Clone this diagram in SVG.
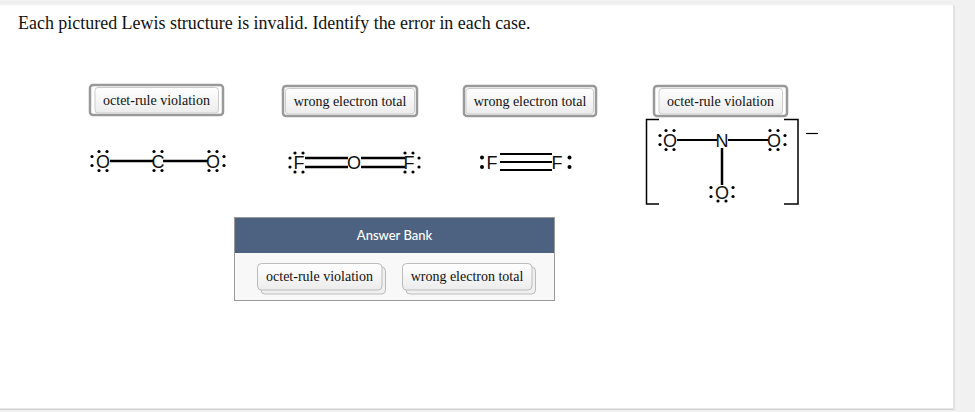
<svg xmlns="http://www.w3.org/2000/svg" width="975" height="412" viewBox="0 0 975 412">
<defs>
<linearGradient id="btn" x1="0" y1="0" x2="0" y2="1"><stop offset="0" stop-color="#ffffff"/><stop offset="1" stop-color="#ececec"/></linearGradient>
<g id="d2h"><circle cx="-4" cy="0" r="1.6"/><circle cx="4" cy="0" r="1.6"/></g>
<g id="d2v"><circle cx="0" cy="-4.500" r="1.6"/><circle cx="0" cy="4.500" r="1.6"/></g>
<g id="tb"><use href="#d2h" y="-9.500"/><use href="#d2h" y="9.500"/></g>
</defs>
<style>
.q{font-family:"Liberation Serif","Times New Roman",serif;fill:#111}
.l{font-size:14px;text-anchor:middle}
.a{font-family:"Liberation Sans",Arial,sans-serif;font-size:18px;text-anchor:middle;fill:#111}
.frame{fill:#fff;stroke:#999;stroke-width:2.5}
.in{fill:url(#btn);stroke:#ccc;stroke-width:1}
.shadow{fill:#f0f0f0;stroke:#bbb;stroke-width:1}
.b{stroke:#000;stroke-linecap:butt;fill:none}
</style>
<rect width="975" height="412" fill="#f1f1f1"/>
<rect x="0" y="408" width="954" height="2" fill="#cfcfcf"/>
<rect x="953" y="5" width="2" height="405" fill="#e2e2e2"/>
<rect x="0" y="5" width="953" height="403.500" fill="#fff"/>
<text class="q" x="18" y="29" font-size="17.950">Each pictured Lewis structure is invalid. Identify the error in each case.</text>

<g id="slot1"><rect class="frame" x="90" y="85" width="133" height="30" rx="3"/><rect class="in" x="95" y="87.500" width="123.500" height="25.500" rx="3"/><text class="q l" x="156.500" y="105">octet-rule violation</text></g>
<g id="slot2"><rect class="frame" x="283" y="86" width="134" height="30" rx="3"/><rect class="in" x="285.500" y="88.500" width="129" height="25.500" rx="3"/><text class="q l" x="350" y="106">wrong electron total</text></g>
<g id="slot3"><rect class="frame" x="464" y="86" width="132" height="30" rx="3"/><rect class="in" x="466" y="88.500" width="127.500" height="25.500" rx="3"/><text class="q l" x="530" y="106">wrong electron total</text></g>
<g id="slot4"><rect class="frame" x="654" y="86" width="133" height="30" rx="3"/><rect class="in" x="659" y="88.500" width="123.500" height="25.500" rx="3"/><text class="q l" x="720.500" y="106">octet-rule violation</text></g>

<g id="connectors">
<path class="b" stroke-width="2.500" d="M110 161H153M163 161H208"/>
<path class="b" stroke-width="2.500" d="M305 158H348M305 167H348M361 158H405M361 167H405"/>
<path class="b" stroke-width="1.800" d="M500 154H552M500 162H552M500 170H552"/>
<path class="b" stroke-width="2" d="M677 140H717M728 140H768"/>
<path class="b" stroke-width="2.500" d="M722 148V185"/>
</g>

<g id="co2">
<text class="a" x="103" y="167.500">O</text><use href="#tb" x="103" y="161"/><use href="#d2v" x="92" y="161"/>
<text class="a" x="158" y="167.500">C</text><use href="#tb" x="158" y="161"/>
<text class="a" x="213" y="167.500">O</text><use href="#tb" x="213" y="161"/><use href="#d2v" x="224" y="161"/>
</g>
<g id="f2o">
<text class="a" x="299" y="169">F</text><use href="#tb" x="299" y="162.500"/><use href="#d2v" x="290" y="162.500"/>
<text class="a" x="354" y="169">O</text>
<text class="a" x="409" y="169">F</text><use href="#tb" x="409" y="162.500"/><use href="#d2v" x="419" y="162.500"/>
</g>
<g id="f2">
<text class="a" x="492" y="168.500">F</text><circle cx="482" cy="157.500" r="2"/><circle cx="482" cy="167" r="2"/>
<text class="a" x="557" y="168.500">F</text><circle cx="569.500" cy="157.500" r="2"/><circle cx="569.500" cy="167" r="2"/>
</g>
<g id="no3">
<path class="b" stroke-width="1.500" d="M659 119.500H646.500V204H659M784 119.500H798V204H784"/>
<path class="b" stroke="#444" stroke-width="1.200" d="M806 133.500H818"/>
<text class="a" x="670" y="146.500">O</text><use href="#tb" x="670" y="140"/><use href="#d2v" x="660" y="140"/>
<text class="a" x="722" y="146.500">N</text>
<text class="a" x="774" y="146.500">O</text><use href="#tb" x="774" y="140"/><use href="#d2v" x="785" y="140"/>
<text class="a" x="722" y="198.500">O</text><use href="#d2h" x="722" y="201"/><use href="#d2v" x="711" y="192"/><use href="#d2v" x="733" y="192"/>
</g>

<g id="bank">
<rect x="234.500" y="217.500" width="320" height="83" fill="#f8f8f8" stroke="#999"/>
<rect x="235" y="218" width="319" height="35" fill="#4d6280"/>
<text x="394.500" y="240" font-family="Lato,'Open Sans',sans-serif" font-size="13px" text-anchor="middle" fill="#fff" font-weight="500">Answer Bank</text>
<g id="bank1"><rect class="shadow" x="261" y="267" width="124.500" height="27" rx="4"/><rect class="in" x="257.500" y="263.500" width="124.500" height="26.500" rx="4" style="stroke:#bbb"/><text class="q l" x="319.500" y="281">octet-rule violation</text></g>
<g id="bank2"><rect class="shadow" x="406" y="267" width="129.500" height="27" rx="4"/><rect class="in" x="402.500" y="263.500" width="129.500" height="26.500" rx="4" style="stroke:#bbb"/><text class="q l" x="467" y="281">wrong electron total</text></g>
</g>
</svg>
